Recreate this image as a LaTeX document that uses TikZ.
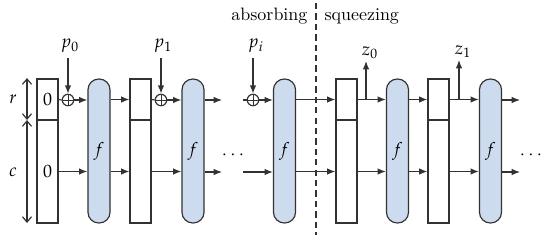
\documentclass[tikz,border=0pt]{standalone}
\usepackage{mathpazo}
\usetikzlibrary{arrows.meta,calc}
\definecolor{fblue}{RGB}{205,219,238}
\definecolor{edge}{RGB}{50,50,50}
\begin{document}
\begin{tikzpicture}[x=0.557pt,y=-0.557pt,
  line width=0.65pt,
  >={Latex[length=4.6pt,width=3.6pt]},
  rpart/.style={draw=edge,minimum width=11.7pt,minimum height=22.8pt,inner sep=0pt},
  cpart/.style={draw=edge,minimum width=11.7pt,minimum height=57.4pt,inner sep=0pt},
  fbox/.style={draw=edge,fill=fblue,rounded corners=6pt,minimum width=12.3pt,minimum height=80.2pt,inner sep=0pt},
  xorc/.style={draw=edge,circle,minimum size=6.4pt,inner sep=0pt,path picture={
     \draw[edge,line width=0.5pt] (path picture bounding box.north) -- (path picture bounding box.south)
       (path picture bounding box.west) -- (path picture bounding box.east);}},
  conn/.style={draw=edge,->},
  plain/.style={draw=edge}]
\useasboundingbox (0,0) rectangle (550,243);

% state boxes
\node[rpart] (r1) at (47.5,99.5) {$0$};
\node[cpart] (c1) at (47.5,171.5) {$0$};
\node[rpart] (r2) at (140.5,99.5) {};
\node[cpart] (c2) at (140.5,171.5) {};
\node[rpart] (r3) at (346.5,99.5) {};
\node[cpart] (c3) at (346.5,171.5) {};
\node[rpart] (r4) at (438.5,99.5) {};
\node[cpart] (c4) at (438.5,171.5) {};

% permutations
\node[fbox] (f1) at (99,151) {$f$};
\node[fbox] (f2) at (193,151) {$f$};
\node[fbox] (f3) at (284.5,151) {$f$};
\node[fbox] (f4) at (397.5,151) {$f$};
\node[fbox] (f5) at (490.5,151) {$f$};

% xor
\node[xorc] (o0) at (68,100) {};
\node[xorc] (o1) at (161,100) {};
\node[xorc] (oi) at (253,100) {};

% inputs
\node (p0) at (70,46) {$p_0$};
\node (p1) at (163,46) {$p_1$};
\node (pi) at (256,46) {$p_i$};
\coordinate (p0s) at (68,58);
\coordinate (p1s) at (161,58);
\coordinate (pis) at (253,58);
\draw[conn] (p0s) -- (o0.north);
\draw[conn] (p1s) -- (o1.north);
\draw[conn] (pis) -- (oi.north);

% absorbing connections
\draw[plain] (r1.east) -- (o0.west);
\draw[conn] (o0.east) -- (o0.east -| f1.west);
\draw[conn] (c1.east) -- (c1.east -| f1.west);
\draw[conn] (r2.west -| f1.east) -- (r2.west);
\draw[conn] (c2.west -| f1.east) -- (c2.west);
\draw[plain] (r2.east) -- (o1.west);
\draw[conn] (o1.east) -- (o1.east -| f2.west);
\draw[conn] (c2.east) -- (c2.east -| f2.west);

\coordinate (a1) at (222,100);
\coordinate (a2) at (222,172);
\draw[conn] (a1 -| f2.east) -- (a1);
\draw[conn] (a2 -| f2.east) -- (a2);
\node (d1) at (233,155) {$\cdots$};

\coordinate (b1) at (243,100);
\coordinate (b2) at (243,172);
\draw[plain] (b1) -- (oi.west);
\draw[conn] (oi.east) -- (oi.east -| f3.west);
\draw[conn] (b2) -- (b2 -| f3.west);

% squeezing connections
\draw[conn] (r3.west -| f3.east) -- (r3.west);
\draw[conn] (c3.west -| f3.east) -- (c3.west);
\draw[conn] (r3.east) -- (r3.east -| f4.west);
\draw[conn] (c3.east) -- (c3.east -| f4.west);
\draw[conn] (r4.west -| f4.east) -- (r4.west);
\draw[conn] (c4.west -| f4.east) -- (c4.west);
\draw[conn] (r4.east) -- (r4.east -| f5.west);
\draw[conn] (c4.east) -- (c4.east -| f5.west);

\coordinate (e1) at (520,100);
\coordinate (e2) at (520,172);
\draw[conn] (e1 -| f5.east) -- (e1);
\draw[conn] (e2 -| f5.east) -- (e2);
\node (d2) at (531,155) {$\cdots$};

% outputs
\coordinate (z0s) at (366,100);
\coordinate (z1s) at (459,100);
\node[anchor=south,inner sep=1pt] (z0) at (370,61) {$z_0$};
\node[anchor=south,inner sep=1pt] (z1) at (463,60) {$z_1$};
\draw[conn] (z0s) -- (z0s |- z0.south);
\draw[conn] (z1s) -- (z1s |- z1.south);

% dashed divider
\coordinate (dt) at (316,3);
\coordinate (db) at (316,235);
\draw[edge,dash pattern=on 3.5pt off 2.3pt] (dt) -- (db);
\node[anchor=east] (abs) at (314,16) {absorbing};
\node[anchor=west] (sqz) at (318,16) {squeezing};

% dimension arrows
\coordinate (m1) at (27,78);
\coordinate (m2) at (27,120);
\coordinate (m3) at (27,223);
\draw[edge,<->,>={Straight Barb[length=3pt,width=5pt]}] (m1) -- (m2);
\draw[edge,<->,>={Straight Barb[length=3pt,width=5pt]}] (m2) -- (m3);
\node (rl) at (13,99) {$r$};
\node (cl) at (13,172) {$c$};
\end{tikzpicture}
\end{document}
